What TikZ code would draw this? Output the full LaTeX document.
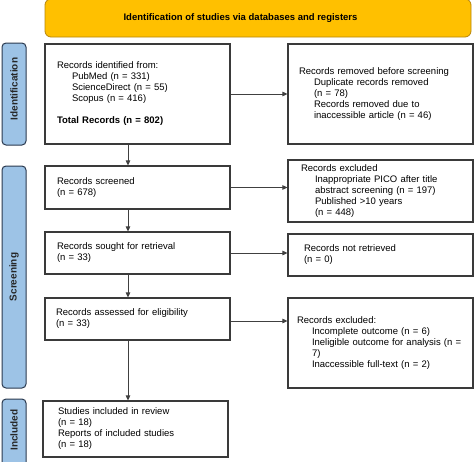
\documentclass[tikz,border=0pt]{standalone}
\usepackage{fontspec}
\setmainfont{Liberation Sans}
\usetikzlibrary{arrows.meta}
\definecolor{banner}{HTML}{FFC000}
\definecolor{bannerline}{HTML}{B8860B}
\definecolor{sidefill}{HTML}{9DC3E6}
\definecolor{sideline}{HTML}{2B3A4F}
\definecolor{boxline}{HTML}{3A3A3A}
\begin{document}
\begin{tikzpicture}[x=1pt,y=-1pt,
  txt/.style={font=\fontsize{9.5}{11}\selectfont},
  box/.style={draw=boxline, line width=1.1pt, fill=white, align=left, txt, inner ysep=0pt},
  sidebar/.style={draw=sideline, fill=sidefill, line width=1pt, rounded corners=4pt, minimum width=24pt, inner sep=0pt},
  sidelabel/.style={rotate=90, text=black!85, font=\bfseries\fontsize{10}{12}\selectfont},
  arr/.style={draw=black!75, line width=0.8pt, -{Triangle[length=5pt,width=4.5pt]}}
]
\clip (0,0) rectangle (474,461);
\fill[white] (0,0) rectangle (474,461);

% banner
\node[draw=bannerline, fill=banner, line width=0.8pt, rounded corners=6pt, minimum width=426pt, minimum height=38pt, inner sep=0pt] (ban) at (258,18) {};
\node[font=\bfseries\fontsize{9.5}{11}\selectfont, inner sep=0pt] (bant) at (240.5,18) {Identification of studies via databases and registers};

% side bars
\node[sidebar, minimum height=102pt] (s1) at (14,94) {};
\node[sidelabel] (l1) at (14,89) {Identification};
\node[sidebar, minimum height=222pt] (s2) at (14,277) {};
\node[sidelabel] (l2) at (s2) {Screening};
\node[sidebar, minimum height=76pt] (s3) at (14,437) {};
\node[sidelabel] (l3) at (14,430) {Included};

% boxes
\node[box, text width=161pt, inner xsep=12pt, minimum height=100pt] (b1) at (137.5,94)
 {Records identified from:\\
  \hspace*{15pt}PubMed (n = 331)\\
  \hspace*{15pt}ScienceDirect (n = 55)\\
  \hspace*{15pt}Scopus (n = 416)\\[11pt]
  \textbf{Total Records (n = 802)}};
\node[box, text width=163pt, inner xsep=11pt, minimum height=100pt] (b2) at (380.5,94)
 {Records removed before screening\\
  \hspace*{15pt}Duplicate records removed\\
  \hspace*{15pt}(n = 78)\\
  \hspace*{15pt}Records removed due to\\
  \hspace*{15pt}inaccessible article (n = 46)};
\node[box, text width=161pt, inner xsep=12pt, minimum height=43pt] (scr) at (137.5,187.5)
 {Records screened\\(n = 678)};
\node[box, text width=159pt, inner xsep=13pt, minimum height=62pt] (exc) at (380.5,191)
 {Records excluded\\
  \hspace*{14pt}Inappropriate PICO after title\\
  \hspace*{14pt}abstract screening (n = 197)\\
  \hspace*{14pt}Published >10 years\\
  \hspace*{14pt}(n = 448)};
\node[box, text width=161pt, inner xsep=12pt, minimum height=42pt] (sou) at (137.5,253)
 {Records sought for retrieval\\(n = 33)};
\node[box, text width=153pt, inner xsep=16pt, minimum height=42pt] (nr) at (380.5,255)
 {Records not retrieved\\(n = 0)};
\node[box, text width=163pt, inner xsep=11pt, minimum height=42pt] (ass) at (137.5,319)
 {Records assessed for eligibility\\(n = 33)};
\node[box, text width=167pt, inner xsep=9pt, minimum height=90pt] (ex2) at (380.5,343)
 {Records excluded:\\
  \hspace*{15pt}Incomplete outcome (n = 6)\\
  \hspace*{15pt}Ineligible outcome for analysis (n =\\
  \hspace*{15pt}7)\\
  \hspace*{15pt}Inaccessible full-text (n = 2)};
\node[box, text width=155pt, inner xsep=15pt, minimum height=56pt] (inc) at (135.5,429)
 {Studies included in review\\(n = 18)\\Reports of included studies\\(n = 18)};

% connectors
\draw[arr] ([xshift=-9.5pt]b1.south) -- ([xshift=-9.5pt]scr.north);
\draw[arr] ([xshift=-9.5pt]scr.south) -- ([xshift=-9.5pt]sou.north);
\draw[arr] ([xshift=-9.5pt]sou.south) -- ([xshift=-9.5pt]ass.north);
\draw[arr] ([xshift=-9.5pt]ass.south) -- ([xshift=-9.5pt]ass.south |- inc.north);
\draw[arr] (b1.east) -- (b1.east -| b2.west);
\draw[arr] (scr.east) -- (scr.east -| exc.west);
\draw[arr] (sou.east) -- (sou.east -| nr.west);
\draw[arr] ([yshift=-2pt]ass.east) -- ([yshift=-2pt]ass.east -| ex2.west);
\end{tikzpicture}
\end{document}
